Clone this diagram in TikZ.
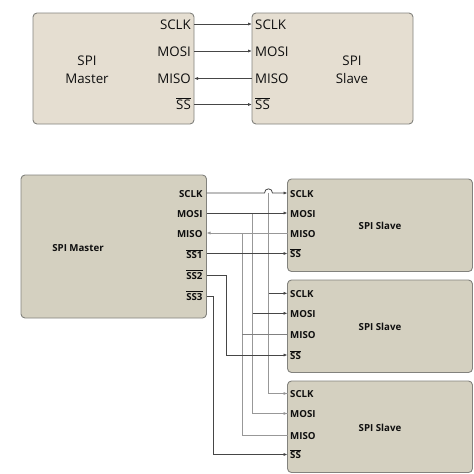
\documentclass[tikz,border=0pt]{standalone}
\usepackage{fontspec}
\setmainfont{Open Sans}
\usetikzlibrary{arrows.meta}
\definecolor{boxA}{RGB}{229,222,209}
\definecolor{boxB}{RGB}{212,208,192}
\definecolor{edgec}{RGB}{130,130,125}
\definecolor{wired}{RGB}{70,70,70}
\definecolor{wirel}{RGB}{152,152,152}
\definecolor{txt}{RGB}{15,15,15}
\newcommand{\ovl}[1]{$\overline{\mbox{#1}}$}
\tikzset{
  topbox/.style={draw=edgec, fill=boxA, rounded corners=4pt, line width=0.9pt, inner sep=0pt},
  botbox/.style={draw=edgec, fill=boxB, rounded corners=4pt, line width=0.9pt, inner sep=0pt},
  toplbl/.style={font=\fontsize{13.3}{15}\selectfont, text=txt, inner sep=0pt},
  topttl/.style={font=\fontsize{13.3}{18}\selectfont, text=txt, inner sep=0pt, align=center},
  botlbl/.style={font=\bfseries\fontsize{9.7}{11}\selectfont, text=txt, inner sep=0pt},
  wd/.style={draw=wired, line width=0.8pt},
  wl/.style={draw=wirel, line width=0.8pt},
  tipd/.style={-{Latex[length=4pt,width=3.2pt]}},
  tipl/.style={-{Latex[length=4pt,width=3.2pt,fill=wirel]}},
}
\begin{document}
\begin{tikzpicture}[x=1pt,y=-1pt]
\useasboundingbox (0,0) rectangle (474,474);
% ===== top diagram =====
\draw[topbox] (33,13) rectangle (194,124);
\draw[topbox] (252,13) rectangle (413,124);
\node[topttl] (tmt) at (87,69.5) {SPI\\Master};
\node[topttl] (tst) at (352,69.5) {SPI\\Slave};
% master labels
\node[toplbl, anchor=base east] (tm1) at (191,29.3) {SCLK};
\node[toplbl, anchor=base east] (tm2) at (191,56) {MOSI};
\node[toplbl, anchor=base east] (tm3) at (191,83.3) {MISO};
\node[toplbl, anchor=base east] (tm4) at (191,109.3) {\ovl{SS}};
% slave labels
\node[toplbl, anchor=base west] (ts1) at (255,29.3) {SCLK};
\node[toplbl, anchor=base west] (ts2) at (255,56) {MOSI};
\node[toplbl, anchor=base west] (ts3) at (255,83.3) {MISO};
\node[toplbl, anchor=base west] (ts4) at (255,109.3) {\ovl{SS}};
\coordinate (tma) at (194,24);   \coordinate (tsa) at (252,24);
\coordinate (tmb) at (194,51);   \coordinate (tsb) at (252,51);
\coordinate (tmc) at (194,78.5); \coordinate (tsc) at (252,78.5);
\coordinate (tmd) at (194,104.5);\coordinate (tsd) at (252,104.5);
\draw[wd,tipd] (tma) -- (tsa);
\draw[wd,tipd] (tmb) -- (tsb);
\draw[wd,tipd] (tsc) -- (tmc);
\draw[wd,tipd] (tmd) -- (tsd);
% ===== bottom diagram =====
\draw[botbox] (21,175) rectangle (206.5,318);
\draw[botbox] (287.5,179) rectangle (472.5,271.5);
\draw[botbox] (287.5,280) rectangle (472.5,372.5);
\draw[botbox] (287.5,381) rectangle (472.5,472.5);
\node[botlbl] (bmt) at (78,247.7) {SPI Master};
\node[botlbl] (s1t) at (380,226.3) {SPI Slave};
\node[botlbl] (s2t) at (380,327.3) {SPI Slave};
\node[botlbl] (s3t) at (380,427.7) {SPI Slave};
% master labels
\node[botlbl, anchor=base east] (bm1) at (202.7,197.3) {SCLK};
\node[botlbl, anchor=base east] (bm2) at (202.7,217.3) {MOSI};
\node[botlbl, anchor=base east] (bm3) at (202.7,237.8) {MISO};
\node[botlbl, anchor=base east] (bm4) at (202.7,258.5) {\ovl{SS1}};
\node[botlbl, anchor=base east] (bm5) at (202.7,279) {\ovl{SS2}};
\node[botlbl, anchor=base east] (bm6) at (202.7,300) {\ovl{SS3}};
% slave labels
\foreach \n/\ya/\yb/\yc/\yd in {1/193/213/233/253.5, 2/293.3/313.3/334.3/355, 3/393.5/413.5/435/454.5}{
  \node[botlbl, anchor=base west] (s\n a) at (290,\ya+4) {SCLK};
  \node[botlbl, anchor=base west] (s\n b) at (290,\yb+4) {MOSI};
  \node[botlbl, anchor=base west] (s\n c) at (290,\yc+4) {MISO};
  \node[botlbl, anchor=base west] (s\n d) at (290,\yd+4.3) {\ovl{SS}};
}
% wire end points
\coordinate (mA) at (206.5,193);  \coordinate (mB) at (206.5,213);
\coordinate (mC) at (206.5,233);  \coordinate (mD) at (206.5,253.5);
\coordinate (mE) at (206.5,275);  \coordinate (mF) at (206.5,296);
\coordinate (s1A) at (287.5,193); \coordinate (s1B) at (287.5,213);
\coordinate (s1C) at (287.5,233); \coordinate (s1D) at (287.5,253.5);
\coordinate (s2A) at (287.5,293.3); \coordinate (s2B) at (287.5,313.3);
\coordinate (s2C) at (287.5,334.3); \coordinate (s2D) at (287.5,355);
\coordinate (s3A) at (287.5,393.5); \coordinate (s3B) at (287.5,413.5);
\coordinate (s3C) at (287.5,435);   \coordinate (s3D) at (287.5,454.5);
% vertical buses (light)
\coordinate (vA) at (268.5,193);
\coordinate (vB) at (252.5,213);
\coordinate (vC) at (242,233);
\draw[wl] (vA) -- (vA |- s3A) -- (s3A);
\draw[wl] (vB) -- (vB |- s3B) -- (s3B);
\draw[wl] (vC) -- (vC |- s3C) -- (s3C);
\draw[wl,tipl] (s3A) ++(-6,0) -- (s3A);
\draw[wl,tipl] (s3B) ++(-6,0) -- (s3B);
% master -> slave 1
\draw[wd,tipd] (mA) -- (264.5,193) .. controls (264.5,187.5) and (272.5,187.5) .. (272.5,193) -- (s1A);
\draw[wd,tipd] (mB) -- (s1B);
\draw[wl,tipl] (s1C) -- (mC);
\draw[wd,tipd] (mD) -- (s1D);
% slave 2 branches
\draw[wd,tipd] (vA |- s2A) -- (s2A);
\draw[wd,tipd] (vB |- s2B) -- (s2B);
\draw[wd,draw=gray] (vC |- s2C) -- (s2C);
% SS2, SS3
\draw[wd,tipd] (mE) -- (226,275) -- (226,355) -- (s2D);
\draw[wd,tipd] (mF) -- (213.5,296) -- (213.5,454.5) -- (s3D);
\end{tikzpicture}
\end{document}
